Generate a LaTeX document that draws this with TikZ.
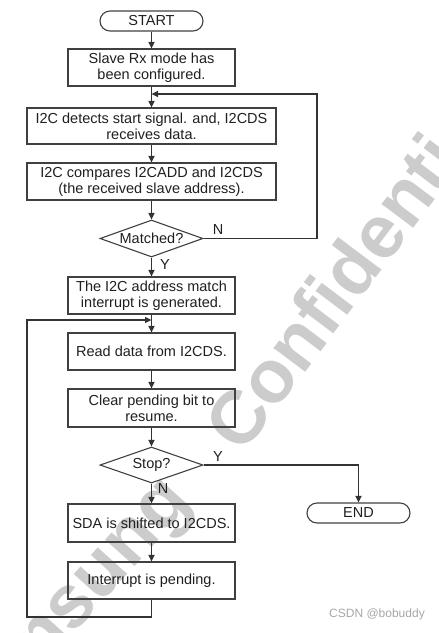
\documentclass[tikz,border=0pt]{standalone}
\usepackage{fontspec}
\setmainfont{Liberation Sans}
\usetikzlibrary{shapes.geometric,arrows.meta}
\begin{document}
\begin{tikzpicture}[x=1pt,y=-1pt,
  every node/.style={font=\fontsize{14.5}{15.8}\selectfont, text=black!88},
  procbox/.style={draw=black!75, line width=1.1pt, align=center, inner sep=0pt},
  pill/.style={draw=black!75, line width=1.1pt, rounded corners=10pt, minimum width=103pt, minimum height=20pt, inner sep=0pt},
  decision/.style={draw=black!75, line width=1.1pt, diamond, aspect=2.8, minimum width=103pt, minimum height=37pt, inner sep=0pt},
  flow/.style={draw=black!80, line width=1.1pt, -{Triangle[length=6.5pt,width=6pt]}},
  lbl/.style={font=\fontsize{14.5}{14.5}\selectfont},
  wmark/.style={text=black!20, font=\fontsize{75}{75}\bfseries\selectfont, inner sep=0pt}
]
\useasboundingbox (0,0) rectangle (439,633);
% watermark
\begin{scope}
\clip (0,0) rectangle (439,633);
\node[wmark, rotate=53, anchor=base west] (wm2) at (242,456) {Confidential};
\node[wmark, rotate=48, anchor=base east] (wm1) at (193,502) {Samsung};
\end{scope}
\node[text=black!35, font=\fontsize{12}{12}\selectfont] (csdn) at (377,614) {CSDN @bobuddy};

\node[pill] (start) at (151.5,21) {START};
\node[procbox, minimum width=167pt, minimum height=37pt] (b1) at (151.5,67.5) {Slave Rx mode has\\been configured.};
\node[procbox, minimum width=249pt, minimum height=36pt] (b2) at (151.5,126) {I2C detects start signal. and, I2CDS\\receives data.};
\node[procbox, minimum width=249pt, minimum height=37pt] (b3) at (151.5,181.5) {I2C compares I2CADD and I2CDS\\(the received slave address).};
\node[decision] (d1) at (151.5,238.5) {Matched?};
\node[procbox, minimum width=167pt, minimum height=37pt] (b4) at (151.5,295.5) {The I2C address match\\interrupt is generated.};
\node[procbox, minimum width=167pt, minimum height=37pt] (b5) at (151.5,351.5) {Read data from I2CDS.};
\node[procbox, minimum width=167pt, minimum height=38pt] (b6) at (151.5,408) {Clear pending bit to\\resume.};
\node[decision, minimum height=36pt] (d2) at (151.5,465) {Stop?};
\node[procbox, minimum width=167pt, minimum height=38pt] (b7) at (151.5,523) {SDA is shifted to I2CDS.};
\node[procbox, minimum width=167pt, minimum height=37pt] (b8) at (151.5,580.5) {Interrupt is pending.};
\node[pill] (end) at (358.5,513) {END};

\coordinate (j1) at (151.5,94);
\coordinate (j2) at (151.5,320);

\draw[flow] (start) -- (b1);
\draw[flow] (b1) -- (b2);
\draw[flow] (b2) -- (b3);
\draw[flow] (b3) -- (d1);
\draw[flow] (d1) -- (b4);
\draw[flow] (b4) -- (b5);
\draw[flow] (b5) -- (b6);
\draw[flow] (b6) -- (d2);
\draw[flow] (d2) -- (b7);
\draw[flow] (b7) -- (b8);
\draw[flow] (d1.east) -- (317,238.5) |- (j1);
\draw[flow] (d2.east) -| (end.north);
\draw[flow] (b8.south) |- (27,617) -- (27,320) -- (j2);

\node[lbl] (n1) at (218,230) {N};
\node[lbl] (y1) at (165,265) {Y};
\node[lbl] (y2) at (218,457) {Y};
\node[lbl] (n2) at (163,489) {N};
\end{tikzpicture}
\end{document}
